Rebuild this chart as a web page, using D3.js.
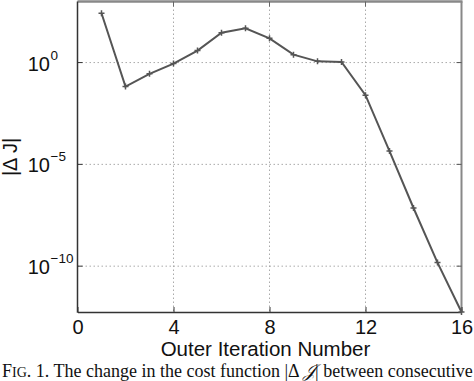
<!DOCTYPE html>
<html>
<head>
<meta charset="utf-8">
<script src="https://cdn.jsdelivr.net/npm/d3@7"></script>
<style>
  body { margin: 0; background: #fff; }
  svg { display: block; }
</style>
</head>
<body>
<div id="chart"></div>
<script>
// iterations and |ΔJ|
const iterations = [1, 2, 3, 4, 5, 6, 7, 8, 9, 10, 11, 12, 13, 14, 15, 16];
const deltaJ = [263, 0.066, 0.28, 0.89, 3.9, 29.5, 48, 15.5, 2.45, 1.15, 1.07, 0.025, 4.5e-5, 7.2e-8, 1.5e-10, 5.6e-13];
const xTicks = [0, 4, 8, 12, 16];
const yTickExps = [0, -5, -10];

const W = 474, H = 381;
const plotL = 77.5, plotR = 461.5, plotT = 1.5, plotB = 312;

const svg = d3.select("#chart").append("svg")
    .attr("width", W)
    .attr("height", H);

const x = d3.scaleLinear().domain([0, 16]).range([plotL, plotR]);
const y = d3.scaleLog().domain([deltaJ[deltaJ.length - 1], 1e3]).range([plotB, plotT]);

// grid lines (dotted)
svg.append("g")
    .selectAll("line")
    .data(xTicks.slice(1, -1))
    .enter()
    .append("line")
    .attr("x1", d => x(d)).attr("x2", d => x(d))
    .attr("y1", plotT).attr("y2", plotB)
    .attr("stroke", "#aaa")
    .attr("stroke-width", 1)
    .attr("stroke-dasharray", "1.5,2.5");

svg.append("g")
    .selectAll("line")
    .data(yTickExps)
    .enter()
    .append("line")
    .attr("x1", plotL).attr("x2", plotR)
    .attr("y1", d => y(Math.pow(10, d))).attr("y2", d => y(Math.pow(10, d)))
    .attr("stroke", "#aaa")
    .attr("stroke-width", 1)
    .attr("stroke-dasharray", "1.5,2.5");

// box: top and right in gray
svg.append("line")
    .attr("x1", plotL).attr("x2", plotR + 1).attr("y1", plotT).attr("y2", plotT)
    .attr("stroke", "#888").attr("stroke-width", 2.5);
svg.append("line")
    .attr("x1", plotR).attr("x2", plotR).attr("y1", plotT).attr("y2", plotB)
    .attr("stroke", "#888").attr("stroke-width", 2);

// bottom axis
const xAxis = svg.append("g")
    .attr("transform", `translate(0,${plotB})`)
    .call(d3.axisBottom(x).tickValues(xTicks).tickSizeInner(-5).tickSizeOuter(0).tickPadding(8));
xAxis.select(".domain").attr("stroke", "#333").attr("stroke-width", 1.5);
xAxis.selectAll(".tick line").attr("stroke", "#333");
xAxis.selectAll("text")
    .attr("font-family", "Liberation Sans, Arial, sans-serif")
    .attr("font-size", 20)
    .attr("fill", "#111");

// ticks on top
svg.append("g")
    .selectAll("line")
    .data(xTicks.slice(1, -1))
    .enter()
    .append("line")
    .attr("x1", d => x(d)).attr("x2", d => x(d))
    .attr("y1", plotT).attr("y2", plotT + 5)
    .attr("stroke", "#666");

// left axis
svg.append("line")
    .attr("x1", plotL).attr("x2", plotL).attr("y1", plotT).attr("y2", plotB + 0.75)
    .attr("stroke", "#333").attr("stroke-width", 1.5);

const yTickG = svg.append("g")
    .selectAll("g")
    .data(yTickExps)
    .enter()
    .append("g")
    .attr("transform", d => `translate(0,${y(Math.pow(10, d))})`);

yTickG.append("line")
    .attr("x1", plotL).attr("x2", plotL + 5)
    .attr("stroke", "#333");
yTickG.append("line")
    .attr("x1", plotR - 5).attr("x2", plotR)
    .attr("stroke", "#555");

yTickG.append("text")
    .attr("x", 50)
    .attr("y", 8)
    .attr("text-anchor", "end")
    .attr("font-family", "Liberation Sans, Arial, sans-serif")
    .attr("font-size", 20)
    .attr("fill", "#111")
    .text("10");
yTickG.append("text")
    .attr("x", 50.5)
    .attr("y", -3)
    .attr("font-family", "Liberation Sans, Arial, sans-serif")
    .attr("font-size", 13.5)
    .attr("fill", "#111")
    .text(d => d === 0 ? "0" : "\u2212" + (-d));

// data line
const line = d3.line()
    .x((d, i) => x(iterations[i]))
    .y(d => y(d));

svg.append("path")
    .datum(deltaJ)
    .attr("fill", "none")
    .attr("stroke", "#555")
    .attr("stroke-width", 2)
    .attr("d", line);

// + markers
const marks = svg.append("g")
    .selectAll("g")
    .data(deltaJ)
    .enter()
    .append("g")
    .attr("transform", (d, i) => `translate(${x(iterations[i])},${y(d)})`);
marks.append("path")
    .attr("d", "M-3,0H3M0,-3V3")
    .attr("stroke", "#555")
    .attr("stroke-width", 1.5);

// axis titles
svg.append("text")
    .attr("x", (plotL + plotR) / 2 - 4)
    .attr("y", 356)
    .attr("text-anchor", "middle")
    .attr("font-family", "Liberation Sans, Arial, sans-serif")
    .attr("font-size", 20.5)
    .attr("fill", "#111")
    .text("Outer Iteration Number");

svg.append("text")
    .attr("transform", "translate(17,157) rotate(-90)")
    .attr("text-anchor", "middle")
    .attr("font-family", "Liberation Sans, Arial, sans-serif")
    .attr("font-size", 20)
    .attr("fill", "#111")
    .text("|\u0394 J|");

// caption
const cap = svg.append("text")
    .attr("x", 2)
    .attr("y", 377)
    .attr("font-family", "Liberation Serif, Times New Roman, serif")
    .attr("font-size", 18)
    .attr("fill", "#111");
cap.append("tspan").text("F");
cap.append("tspan").attr("font-size", 14).text("IG");
cap.append("tspan").text(". 1. The change in the cost function |\u0394 ");
cap.append("tspan").attr("font-style", "italic").text("\uD835\uDCA5");
cap.append("tspan").text("| between consecutive");
</script>
</body>
</html>
